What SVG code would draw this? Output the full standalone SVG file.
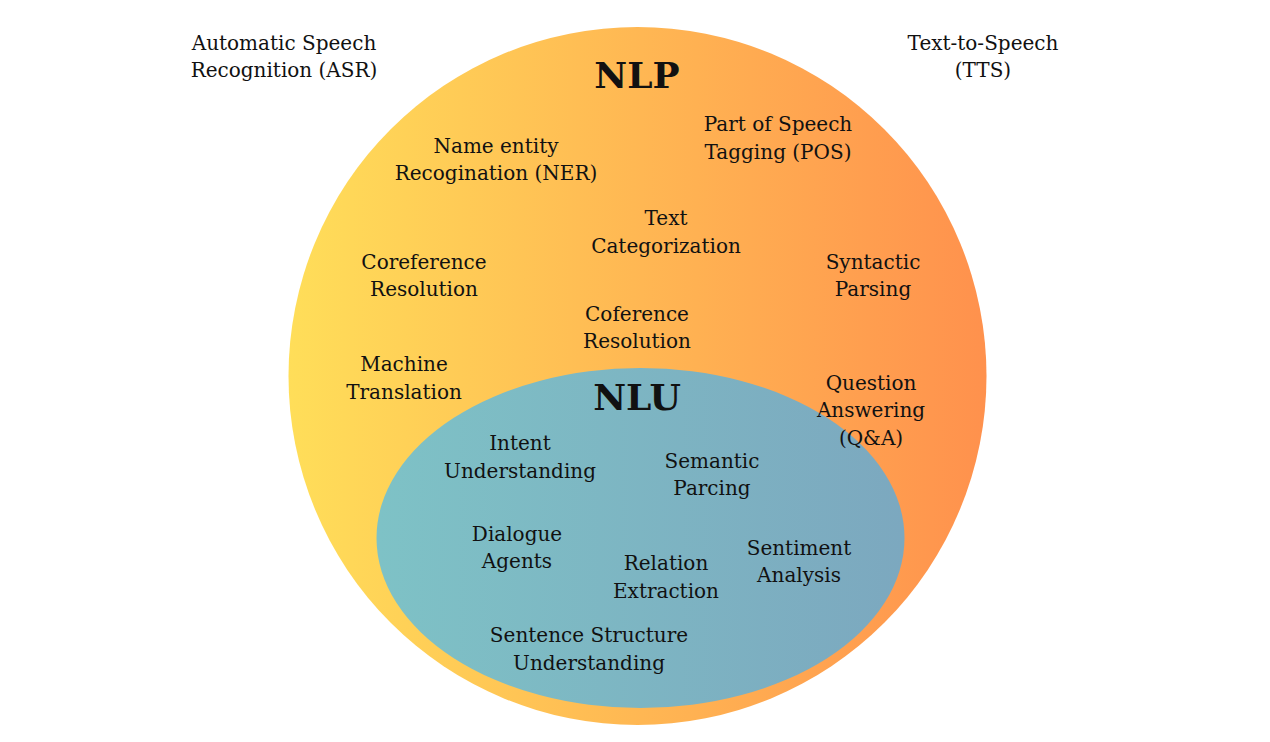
<svg xmlns="http://www.w3.org/2000/svg" width="1270" height="742" viewBox="0 0 1270 742">
<defs>
<linearGradient id="gOuter" x1="0" y1="0" x2="1" y2="0">
<stop offset="0" stop-color="#FFDE59"/>
<stop offset="1" stop-color="#FF914D"/>
</linearGradient>
<linearGradient id="gInner" x1="0" y1="0" x2="1" y2="0">
<stop offset="0" stop-color="#7EC2C6"/>
<stop offset="1" stop-color="#7CA8BF"/>
</linearGradient>
<style>
text{font-family:"DejaVu Serif","Liberation Serif",serif;font-size:20px;fill:#111;text-anchor:middle}
.big{font-size:36px;font-weight:bold}
</style>
</defs>
<rect width="1270" height="742" fill="#ffffff"/>
<g id="nlp">
<circle cx="637.5" cy="376" r="349" fill="url(#gOuter)"/>
<text class="big" x="637" y="88">NLP</text>
</g>
<g id="nlu">
<ellipse cx="640.5" cy="538" rx="264" ry="170" fill="url(#gInner)"/>
<text class="big" x="637" y="410">NLU</text>
</g>
<g id="connectors"/>
<g id="asr"><text x="284" y="50">Automatic Speech</text><text x="284" y="77">Recognition (ASR)</text></g>
<g id="tts"><text x="983" y="50">Text-to-Speech</text><text x="983" y="77">(TTS)</text></g>
<g id="ner"><text x="496" y="153">Name entity</text><text x="496" y="180">Recogination (NER)</text></g>
<g id="pos"><text x="778" y="131">Part of Speech</text><text x="778" y="159">Tagging (POS)</text></g>
<g id="textcat"><text x="666" y="225">Text</text><text x="666" y="253">Categorization</text></g>
<g id="coref1"><text x="424" y="269">Coreference</text><text x="424" y="296">Resolution</text></g>
<g id="syntactic"><text x="873" y="269">Syntactic</text><text x="873" y="296">Parsing</text></g>
<g id="coref2"><text x="637" y="321">Coference</text><text x="637" y="348">Resolution</text></g>
<g id="mt"><text x="404" y="371">Machine</text><text x="404" y="399">Translation</text></g>
<g id="qa"><text x="871" y="390">Question</text><text x="871" y="417">Answering</text><text x="871" y="445">(Q&amp;A)</text></g>
<g id="intent"><text x="520" y="450">Intent</text><text x="520" y="478">Understanding</text></g>
<g id="semantic"><text x="712" y="468">Semantic</text><text x="712" y="495">Parcing</text></g>
<g id="dialogue"><text x="517" y="541">Dialogue</text><text x="517" y="568">Agents</text></g>
<g id="relation"><text x="666" y="570">Relation</text><text x="666" y="598">Extraction</text></g>
<g id="sentiment"><text x="799" y="555">Sentiment</text><text x="799" y="582">Analysis</text></g>
<g id="sentence"><text x="589" y="642">Sentence Structure</text><text x="589" y="670">Understanding</text></g>
</svg>
